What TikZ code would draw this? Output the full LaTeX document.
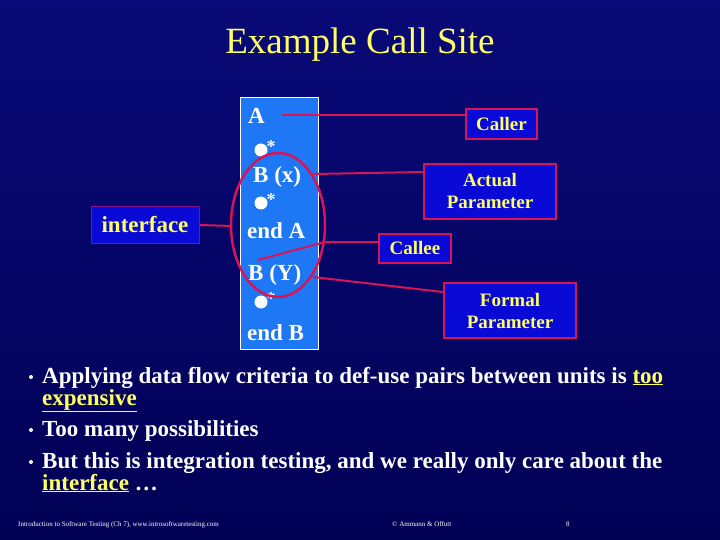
\documentclass[tikz,border=0pt]{standalone}
\usepackage{fontspec}
\setmainfont{Liberation Serif}
\usetikzlibrary{calc}
\definecolor{bgtop}{RGB}{10,10,120}
\definecolor{bgbot}{RGB}{0,0,85}
\definecolor{codebg}{RGB}{30,120,245}
\definecolor{crim}{RGB}{215,20,85}
\definecolor{ylw}{RGB}{255,255,100}
\definecolor{lblbg}{RGB}{10,10,215}
\newcommand{\yul}[1]{{\color{ylw}\underline{#1}}}
\begin{document}
\begin{tikzpicture}[x=1pt,y=-1pt,
  lbl/.style={draw=crim,line width=2.5pt,fill=lblbg,text=ylw,font=\fontsize{19}{22}\selectfont\bfseries,align=center,inner sep=0pt},
  code/.style={text=white,font=\fontsize{23}{24}\selectfont\bfseries,anchor=base west,inner sep=0pt},
  link/.style={crim,line width=2pt},
  bul/.style={text=white,font=\fontsize{23}{25}\selectfont\bfseries,anchor=base west,inner sep=0pt},
  foot/.style={text=white,font=\fontsize{7}{8}\selectfont,anchor=base west,inner sep=0pt}]
\useasboundingbox (0,0) rectangle (720,540);
\shade[top color=bgtop,bottom color=bgbot] (0,0) rectangle (720,540);
\node[text=ylw,font=\fontsize{37}{40}\selectfont] (title) at (360,45) {Example Call Site};
% code column
\node[fill=codebg,draw=white,line width=0.6pt,minimum width=78pt,minimum height=252pt,inner sep=0pt] (col) at (279,223) {};
\node[code] (a) at (248,124) {A};
\node[code] (bx) at (253,183) {B (x)};
\node[code] (ea) at (247,239) {end A};
\node[code] (by) at (248,280) {B (Y)};
\node[code] (eb) at (247,340) {end B};
\foreach \n/\yy in {b1/150,b2/203,b3/302}{
  \fill[white] (261,\yy) circle (6.5);
  \node[text=white,font=\fontsize{18}{18}\selectfont\bfseries,inner sep=0pt] (\n) at (271,\yy-3) {*};
}
\draw[crim,line width=2.5pt] (278,225) ellipse (47 and 72);
\coordinate (ell) at (232,226);
% labels
\node[lbl,minimum width=71pt,minimum height=30pt] (caller) at (501.5,124) {Caller};
\node[lbl,minimum width=132pt,minimum height=55pt] (actual) at (490,191.5) {Actual\\Parameter};
\node[lbl,minimum width=72pt,minimum height=29pt] (callee) at (415,248.5) {Callee};
\node[lbl,minimum width=132pt,minimum height=55pt] (formal) at (510,310.5) {Formal\\Parameter};
\node[draw=crim!60!lblbg,line width=1pt,fill=lblbg,text=ylw,font=\fontsize{23}{25}\selectfont\bfseries,minimum width=108pt,minimum height=36pt,inner sep=0pt] (iface) at (145,225) {interface};
% links
\coordinate (ca0) at (282,115);
\draw[link] (ca0) -- (caller.west |- ca0);
\coordinate (ac0) at (314,174);
\draw[link] (ac0) -- (actual.west |- 0,172);
\coordinate (ce0) at (258,260);
\coordinate (ce1) at (325,242);
\draw[link] (ce0) -- (ce1) -- (callee.west |- ce1);
\coordinate (fo0) at (313,277);
\draw[link] (fo0) -- (formal.west |- 0,292);
\draw[link] (iface.east) -- (ell);
% bullets
\foreach \yy in {383,436,468}{\fill[white] (31,\yy-6) circle (2);}
\node[bul] (l1) at (42,383) {Applying data flow criteria to def-use pairs between units is \yul{too}};
\node[bul] (l2) at (42,405) {\yul{expensive}};
\node[bul] (l3) at (42,436) {Too many possibilities};
\node[bul] (l4) at (42,468) {But this is integration testing, and we really only care about the};
\node[bul] (l5) at (42,490) {\yul{interface} …};
% footer
\node[foot] (f1) at (18,526) {Introduction to Software Testing (Ch 7), www.introsoftwaretesting.com};
\node[foot] (f2) at (392,526) {© Ammann \& Offutt};
\node[foot] (f3) at (566,526) {8};
\end{tikzpicture}
\end{document}
